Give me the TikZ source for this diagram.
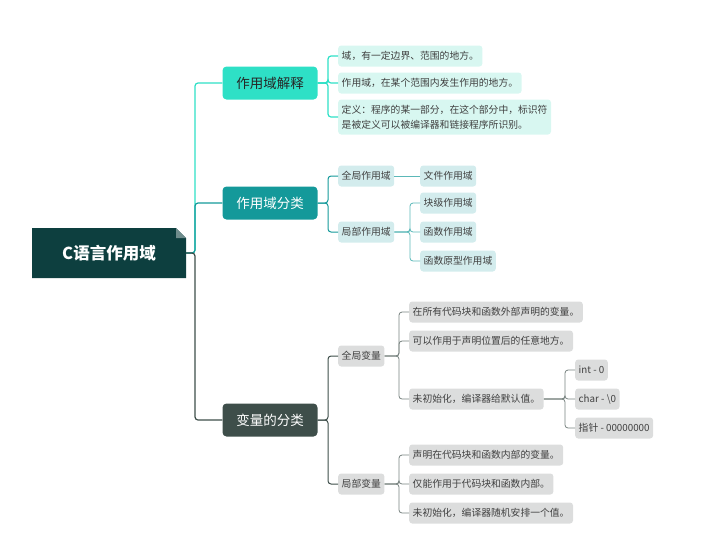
\documentclass[tikz,border=0pt]{standalone}
\usepackage{fontspec}
\setmainfont{Noto Sans CJK SC}
\usetikzlibrary{positioning}
\definecolor{cyanA}{HTML}{2EE0C6}
\definecolor{tealB}{HTML}{14999A}
\definecolor{slateC}{HTML}{3E4E4A}
\definecolor{rootC}{HTML}{0D3F3F}
\definecolor{leafA}{HTML}{D8F7F1}
\definecolor{leafB}{HTML}{D3ECED}
\definecolor{leafC}{HTML}{DCDDDD}
\tikzset{
    branch/.style={rounded corners=4pt, minimum width=95pt, minimum height=33pt, font=\fontsize{13.5}{15}\selectfont},
    leaf/.style={rounded corners=3pt, anchor=west, inner sep=3.5pt, minimum height=21pt, font=\fontsize{9.8}{15}\selectfont, text=black!75},
    link/.style={line width=1.2pt, rounded corners=3pt}
}
\begin{document}
\begin{tikzpicture}[x=1pt,y=-1pt]
    \useasboundingbox (0,0) rectangle (720,550);

    % root with folded corner
    \fill[rootC] (32,228) -- (176,228) -- (186,238) -- (186,278) -- (32,278) -- cycle;
    \fill[rootC!60] (176,228) -- (176,238) -- (186,238) -- cycle;
    \node[text=white, font=\bfseries\fontsize{16.5}{18}\selectfont] (root) at (109,253) {C语言作用域};
    \coordinate (rootE) at (186,253);

    % first level
    \node[branch, fill=cyanA, text=black!85] (expl) at (270,83) {作用域解释};
    \node[branch, fill=tealB, text=white] (kind) at (270,203) {作用域分类};
    \node[branch, fill=slateC, text=white] (vars) at (270,420) {变量的分类};

    \draw[link, cyanA] (rootE) -- (195,253) |- (expl.west);
    \draw[link, tealB] (rootE) -- (195,253) |- (kind.west);
    \draw[link, slateC] (rootE) -- (195,253) |- (vars.west);

    % explanation
    \begin{scope}[every node/.style={leaf, fill=leafA}]
        \node (e1) at (338,56) {域，有一定边界、范围的地方。};
        \node (e2) at (338,83) {作用域，在某个范围内发生作用的地方。};
        \node[align=left, minimum height=35pt] (e3) at (338,117) {定义：程序的某一部分，在这个部分中，标识符\\是被定义可以被编译器和链接程序所识别。};
    \end{scope}
    \foreach \n in {e1, e2, e3} {
        \draw[link, cyanA] (\n.west) -- ++(-10,0) |- (expl.east);
    }

    % scope kinds
    \begin{scope}[every node/.style={leaf, fill=leafB}]
        \node (glob) at (338,176) {全局作用域};
        \node (file) at (420,176) {文件作用域};
        \node (loc) at (338,232) {局部作用域};
        \node (blk) at (420,203) {块级作用域};
        \node (func) at (420,232) {函数作用域};
        \node (proto) at (420,261) {函数原型作用域};
    \end{scope}
    \draw[link, tealB, line width=1pt] (glob.west) -- ++(-10,0) |- (kind.east);
    \draw[link, tealB, line width=1pt] (loc.west) -- ++(-10,0) |- (kind.east);
    \draw[tealB!70, line width=0.8pt] (glob.east) -- (file.west);
    \foreach \n in {blk, func, proto} {
        \draw[link, tealB!70, line width=0.8pt] (\n.west) -- ++(-10,0) |- (loc.east);
    }

    % variables
    \begin{scope}[every node/.style={leaf, fill=leafC}]
        \node (gvar) at (338,356) {全局变量};
        \node (lvar) at (338,484) {局部变量};
        \node (g1) at (409,312) {在所有代码块和函数外部声明的变量。};
        \node (g2) at (409,341) {可以作用于声明位置后的任意地方。};
        \node (g3) at (409,399) {未初始化，编译器给默认值。};
        \node (d1) at (575,370) {int - 0};
        \node (d2) at (575,399) {char - \textbackslash 0};
        \node (d3) at (575,428) {指针 - 00000000};
        \node (l1) at (409,455) {声明在代码块和函数内部的变量。};
        \node (l2) at (409,484) {仅能作用于代码块和函数内部。};
        \node (l3) at (409,513) {未初始化，编译器随机安排一个值。};
    \end{scope}
    \draw[link, slateC, line width=1pt] (gvar.west) -- ++(-10,0) |- (vars.east);
    \draw[link, slateC, line width=1pt] (lvar.west) -- ++(-10,0) |- (vars.east);
    \foreach \n in {g1, g2, g3} {
        \draw[link, slateC!70, line width=0.8pt] (\n.west) -- ++(-10,0) |- (gvar.east);
    }
    \foreach \n in {d1, d2, d3} {
        \draw[link, slateC!70, line width=0.8pt] (\n.west) -- ++(-10,0) |- (g3.east);
    }
    \foreach \n in {l1, l2, l3} {
        \draw[link, slateC!70, line width=0.8pt] (\n.west) -- ++(-10,0) |- (lvar.east);
    }
\end{tikzpicture}
\end{document}
